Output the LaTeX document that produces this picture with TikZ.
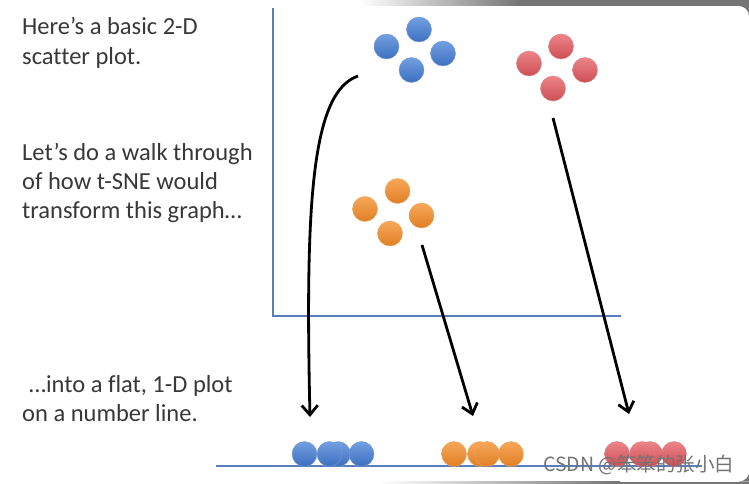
\documentclass[tikz,border=0pt]{standalone}
\usepackage{fontspec}
\setmainfont[Ligatures=NoCommon]{Carlito}
\newfontfamily\cjkwm{Noto Sans CJK SC}
\usetikzlibrary{arrows.meta}
\definecolor{axisblue}{HTML}{5A7DBE}
\definecolor{dotblue}{HTML}{4F88DA}
\definecolor{dotbluedk}{HTML}{3D6FBF}
\definecolor{dotred}{HTML}{E8656A}
\definecolor{dotreddk}{HTML}{CC4F55}
\definecolor{dotorange}{HTML}{F6983C}
\definecolor{dotorangedk}{HTML}{E07F25}
\definecolor{txt}{HTML}{383838}
\definecolor{framegray}{HTML}{757575}
\tikzset{
  dotb/.style={circle,inner sep=0pt,minimum size=25pt,top color=dotblue!80!white,bottom color=dotbluedk,draw=dotbluedk!70!white,line width=0.4pt},
  dotr/.style={circle,inner sep=0pt,minimum size=25pt,top color=dotred!80!white,bottom color=dotreddk,draw=dotreddk!70!white,line width=0.4pt},
  doto/.style={circle,inner sep=0pt,minimum size=25pt,top color=dotorange!85!white,bottom color=dotorangedk,draw=dotorangedk!70!white,line width=0.4pt},
  axisline/.style={draw=axisblue,line width=1.6pt},
  mover/.style={draw=black,line width=2.8pt,-{Straight Barb[length=9.5pt,width=16pt]}},
  txtline/.style={anchor=base west,inner sep=0pt,text=txt,font=\fontsize{24.5}{29.5}\selectfont},
}
\begin{document}
\begin{tikzpicture}[x=1pt,y=-1pt]
\useasboundingbox (0,0) rectangle (749,484);
% window frame
\fill[white] (0,0) rectangle (749,484);
\shade[left color=white,right color=framegray] (360,0) rectangle (520,6);
\fill[framegray] (520,0) rectangle (749,6);
\fill[framegray] (739,6) -- (749,6) -- (749,16) arc[start angle=0,end angle=-90,radius=10] -- cycle;
\shade[left color=white,right color=framegray] (380,481.5) rectangle (620,484);
\fill[framegray] (620,481.5) rectangle (749,484);
\fill[framegray] (749,471) -- (749,481.5) -- (739,481.5) arc[start angle=90,end angle=0,radius=10.5] -- cycle;

% texts
\node[txtline] (t1a) at (22,35) {Here’s a basic 2-D};
\node[txtline] (t1b) at (22,65) {scatter plot.};
\node[txtline] (t2a) at (22,160) {Let’s do a walk through};
\node[txtline] (t2b) at (22,189) {of how t-SNE would};
\node[txtline] (t2c) at (22,218.5) {transform this graph…};
\node[txtline] (t3a) at (29,392) {…into a flat, 1-D plot};
\node[txtline] (t3b) at (22,421.5) {on a number line.};

% axes
\coordinate (ytop) at (273,8);
\coordinate (origin) at (273,316);
\coordinate (xend) at (621,316);
\draw[axisline] (ytop) -- (origin) -- (xend);
\coordinate (nl0) at (216,466);
\coordinate (nl1) at (702,466);
\draw[axisline] (nl0) -- (nl1);

% 2-D clusters
\node[dotb] (b1) at (386.5,46.5) {};
\node[dotb] (b2) at (419,29.5) {};
\node[dotb] (b3) at (443,53.5) {};
\node[dotb] (b4) at (411.5,70) {};
\node[dotr] (r1) at (529,63.5) {};
\node[dotr] (r2) at (561,46.5) {};
\node[dotr] (r3) at (585,70) {};
\node[dotr] (r4) at (553,88.5) {};
\node[doto] (o1) at (365,209) {};
\node[doto] (o2) at (397.5,191) {};
\node[doto] (o3) at (421.5,215.5) {};
\node[doto] (o4) at (390,233.5) {};

% 1-D points
\node[dotb] (lb1) at (304.5,454) {};
\node[dotb] (lb2) at (338,454) {};
\node[dotb] (lb3) at (329.5,454) {};
\node[dotb] (lb4) at (361.5,454) {};
\node[doto] (lo1) at (454,454) {};
\node[doto] (lo2) at (480,454) {};
\node[doto] (lo3) at (487,454) {};
\node[doto] (lo4) at (511,454) {};
\node[dotr] (lr1) at (617,454) {};
\node[dotr] (lr2) at (650,454) {};
\node[dotr] (lr3) at (642,454) {};
\node[dotr] (lr4) at (674,454) {};

% arrows
\coordinate (ab0) at (358,76);
\coordinate (ab1) at (310,417);
\coordinate (ao0) at (422,245);
\coordinate (ao1) at (473,416);
\coordinate (ar0) at (553,118);
\coordinate (ar1) at (629,414);
\draw[mover] (ab0) .. controls (312,92) and (305,200) .. (ab1);
\draw[mover] (ao0) -- (ao1);
\draw[mover] (ar0) -- (ar1);

% watermark
\node[anchor=west,inner sep=0pt,font=\cjkwm\fontsize{19.5}{22}\selectfont,text=gray!90!black] (wm) at (543,465) {CSDN @笨笨的张小白};
\end{tikzpicture}
\end{document}
